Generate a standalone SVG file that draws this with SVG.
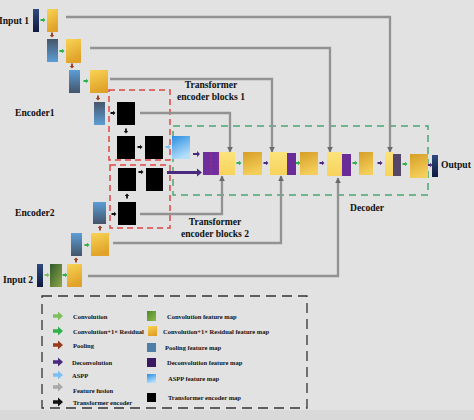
<svg xmlns="http://www.w3.org/2000/svg" width="474" height="420" viewBox="0 0 474 420">
<style>
.lbl{font-family:"Liberation Serif","Times New Roman",serif;font-weight:bold;font-size:9.6px;fill:#111}
.lg{font-family:"Liberation Serif","Times New Roman",serif;font-weight:bold;font-size:6.5px;fill:#111}
.con{fill:none;stroke:#929292;stroke-width:2.3;marker-end:url(#ah)}
.red{fill:none;stroke:#e04545;stroke-width:1.5;stroke-dasharray:6 4}
.grn{fill:none;stroke:#4aa873;stroke-width:1.5;stroke-dasharray:7 5}
.leg{fill:none;stroke:#333;stroke-width:1.3;stroke-dasharray:10 6}
.blk{fill:#000}
.aG{fill:#2fb04a}.aLG{fill:#7fc05c}.aB{fill:#9a3a1c}.aK{fill:#111}.aP{fill:#4a2a7e}.aS{fill:#7cbff0}.aF{fill:#a8a8a8}
</style>
<defs>
<linearGradient id="gNavy" x1="0" y1="0" x2="0" y2="1"><stop offset="0" stop-color="#2e4a80"/><stop offset="1" stop-color="#0e1a40"/></linearGradient>
<linearGradient id="gGold" x1="0" y1="0" x2="0.3" y2="1"><stop offset="0" stop-color="#f8d456"/><stop offset="1" stop-color="#e0a228"/></linearGradient>
<linearGradient id="gGoldD" x1="0" y1="0" x2="0.3" y2="1"><stop offset="0" stop-color="#d69e26"/><stop offset="1" stop-color="#f4ce5a"/></linearGradient>
<linearGradient id="gLight" x1="0" y1="0" x2="0" y2="1"><stop offset="0" stop-color="#fbe37c"/><stop offset="1" stop-color="#f7d35c"/></linearGradient>
<linearGradient id="gPoolA" x1="0" y1="0" x2="0" y2="1"><stop offset="0" stop-color="#46566a"/><stop offset="1" stop-color="#5c9ed6"/></linearGradient>
<linearGradient id="gPoolB" x1="0" y1="0" x2="0" y2="1"><stop offset="0" stop-color="#5c9ed6"/><stop offset="1" stop-color="#44546a"/></linearGradient>
<linearGradient id="gAspp" x1="0" y1="0" x2="0.4" y2="1"><stop offset="0" stop-color="#2a8ee2"/><stop offset="1" stop-color="#b4defa"/></linearGradient>
<linearGradient id="gGreen" x1="0" y1="0" x2="1" y2="1"><stop offset="0" stop-color="#2e5a2a"/><stop offset="1" stop-color="#92a84a"/></linearGradient>
<linearGradient id="gLGreen" x1="0" y1="0" x2="1" y2="1"><stop offset="0" stop-color="#4f8a2c"/><stop offset="1" stop-color="#8cb84e"/></linearGradient>
<marker id="ah" viewBox="0 0 10 10" refX="9" refY="5" markerWidth="6" markerHeight="6" markerUnits="userSpaceOnUse" orient="auto"><path d="M0,0 L10,5 L0,10 z" fill="#6a6a6a"/></marker>
<path id="sa" d="M-2.5,-0.9 H0 V-2.3 L2.5,0 L0,2.3 V0.9 H-2.5 Z"/>
</defs>
<rect width="474" height="420" fill="#e2e2e2"/>
<rect y="410" width="474" height="10" fill="#d9d9d9"/>

<!-- dashed frames -->
<rect class="grn" x="173" y="126" width="255" height="69"/>
<rect class="red" x="109" y="90" width="61" height="70"/>
<rect class="red" x="110" y="165" width="60" height="63"/>

<!-- connectors -->
<g id="connectors">
<path class="con" d="M66,17 H390 V152"/>
<path class="con" d="M90,48 H330 V152"/>
<path class="con" d="M110,79 H272 V152"/>
<path class="con" d="M140,113 H230 V152"/>
<path class="con" d="M140,214 H222 V176"/>
<path class="con" d="M113,243 H281 V176"/>
<path class="con" d="M88,276 H338 V178"/>
<use href="#sa" class="aG" transform="translate(43,20)"/>
<use href="#sa" class="aG" transform="translate(62,51)"/>
<use href="#sa" class="aG" transform="translate(86,81)"/>
<use href="#sa" class="aB" transform="translate(52,35) rotate(90)"/>
<use href="#sa" class="aB" transform="translate(72,66) rotate(90)"/>
<use href="#sa" class="aB" transform="translate(98,98) rotate(90)"/>
<use href="#sa" class="aK" transform="translate(113,113)"/>
<use href="#sa" class="aK" transform="translate(126,131) rotate(90)"/>
<use href="#sa" class="aK" transform="translate(140,147)"/>
<use href="#sa" class="aK" transform="translate(141,172)"/>
<use href="#sa" class="aK" transform="translate(127,196) rotate(-90)"/>
<use href="#sa" class="aK" transform="translate(114,214)"/>
<use href="#sa" class="aB" transform="translate(100,228) rotate(-90)"/>
<use href="#sa" class="aG" transform="translate(87,245)"/>
<use href="#sa" class="aB" transform="translate(76,260) rotate(-90)"/>
<use href="#sa" class="aLG" transform="translate(47,275)"/>
<use href="#sa" class="aG" transform="translate(65,275)"/>
<use href="#sa" class="aS" transform="translate(168,147)"/>
<path class="aP" d="M193,153 H197 V151 L200,154 L197,157 V155 H193 Z"/>
<path class="aP" d="M167,171 H197 V168.5 L202,172.5 L197,176.5 V174 H167 Z"/>
<use href="#sa" class="aG" transform="translate(239,163)"/>
<use href="#sa" class="aP" transform="translate(266,163)"/>
<use href="#sa" class="aG" transform="translate(298,163)"/>
<use href="#sa" class="aP" transform="translate(322,163)"/>
<use href="#sa" class="aG" transform="translate(355,163)"/>
<use href="#sa" class="aP" transform="translate(380,163)"/>
<use href="#sa" class="aG" transform="translate(405,164)"/>
<use href="#sa" class="aP" transform="translate(430,165)"/>
</g>

<!-- encoder 1 -->
<g id="input1"><text class="lbl" x="-1" y="24">Input 1</text><rect x="33" y="9" width="6" height="23" fill="url(#gNavy)"/></g>
<g id="e1c1"><rect x="47" y="9" width="11" height="23" fill="url(#gGold)"/></g>
<g id="e1p1"><rect x="47" y="39" width="11" height="23" fill="url(#gPoolA)"/></g>
<g id="e1c2"><rect x="66" y="39" width="15" height="24" fill="url(#gGold)"/></g>
<g id="e1p2"><rect x="69" y="70" width="11" height="23" fill="url(#gPoolB)"/></g>
<g id="e1c3"><rect x="90" y="70" width="18" height="23" fill="url(#gGold)"/></g>
<g id="encoder1"><text class="lbl" x="15" y="116">Encoder1</text><rect x="94" y="102" width="11" height="23" fill="url(#gPoolA)"/></g>
<g id="t1a"><rect class="blk" x="117" y="102" width="18" height="23"/></g>
<g id="t1b"><rect class="blk" x="117" y="136" width="18" height="23"/></g>
<g id="t1c"><rect class="blk" x="145" y="136" width="18" height="23"/></g>
<g id="tlabel1"><text class="lbl" x="211" y="88" text-anchor="middle">Transformer</text><text class="lbl" x="211" y="100" text-anchor="middle">encoder blocks 1</text></g>

<!-- encoder 2 -->
<g id="t2d"><rect class="blk" x="118" y="168" width="18" height="23"/></g>
<g id="t2e"><rect class="blk" x="146" y="168" width="17" height="23"/></g>
<g id="t2f"><rect class="blk" x="118" y="202" width="18" height="23"/></g>
<g id="encoder2"><text class="lbl" x="15" y="216">Encoder2</text><rect x="93" y="202" width="13" height="22" fill="url(#gPoolB)"/></g>
<g id="e2c3"><rect x="91" y="233" width="18" height="23" fill="url(#gGold)"/></g>
<g id="e2p2"><rect x="71" y="233" width="11" height="23" fill="url(#gPoolB)"/></g>
<g id="input2"><text class="lbl" x="3" y="283">Input 2</text><rect x="37" y="264" width="6" height="23" fill="url(#gNavy)"/></g>
<g id="e2c1"><rect x="50" y="264" width="12" height="23" fill="url(#gGreen)"/></g>
<g id="e2c2"><rect x="67" y="264" width="15" height="23" fill="url(#gGold)"/></g>
<g id="tlabel2"><text class="lbl" x="215" y="225" text-anchor="middle">Transformer</text><text class="lbl" x="215" y="237" text-anchor="middle">encoder blocks 2</text></g>

<!-- decoder -->
<g id="aspp"><rect x="172" y="136" width="18" height="23" fill="url(#gAspp)"/></g>
<g id="d0"><rect x="203" y="152" width="16" height="23" fill="#6e2e9e"/><path d="M211,152 V175 M218,152 V175" stroke="#c03060" stroke-width="0.8" stroke-dasharray="2 1.5" fill="none"/></g>
<g id="d1"><rect x="219" y="152" width="16" height="23" fill="url(#gLight)"/></g>
<g id="d2"><rect x="243" y="152" width="19" height="23" fill="url(#gGoldD)"/></g>
<g id="d3"><rect x="270" y="152" width="17" height="23" fill="url(#gLight)"/><rect x="287" y="153" width="9" height="22" fill="#6a2c96"/></g>
<g id="d4"><rect x="300" y="152" width="18" height="23" fill="url(#gGoldD)"/></g>
<g id="d5"><rect x="327" y="152" width="15" height="24" fill="url(#gLight)"/><rect x="342" y="154" width="9" height="22" fill="#6a2c96"/></g>
<g id="d6"><rect x="359" y="152" width="14" height="23" fill="url(#gGoldD)"/></g>
<g id="d7"><rect x="385" y="152" width="8" height="24" fill="url(#gLight)"/><rect x="393" y="154" width="8" height="22" fill="#564668"/></g>
<g id="d8"><rect x="410" y="154" width="18" height="24" fill="url(#gGoldD)"/></g>
<g id="output"><rect x="432" y="155" width="6" height="22" fill="url(#gNavy)"/><text class="lbl" x="441" y="168">Output</text></g>
<g id="decoder-label"><text class="lbl" x="350" y="211">Decoder</text></g>

<!-- legend -->
<g id="legend">
<rect class="leg" x="42" y="296" width="265" height="112"/>
<use href="#sa" class="aLG" transform="translate(58,316) scale(2)"/>
<text class="lg" x="73" y="318.5">Convolution</text>
<use href="#sa" class="aG" transform="translate(58,331) scale(2)"/>
<text class="lg" x="73" y="333.5">Convolution+1× Residual</text>
<use href="#sa" class="aB" transform="translate(58,345) scale(2)"/>
<text class="lg" x="73" y="347.5">Pooling</text>
<use href="#sa" class="aP" transform="translate(58,362) scale(2)"/>
<text class="lg" x="72" y="364.5">Deconvolution</text>
<use href="#sa" class="aS" transform="translate(58,375) scale(2)"/>
<text class="lg" x="72" y="377.5">ASPP</text>
<use href="#sa" class="aF" transform="translate(58,387) scale(2)"/>
<text class="lg" x="73" y="392.5">Feature fusion</text>
<use href="#sa" class="aK" transform="translate(58,402) scale(2)"/>
<text class="lg" x="73" y="404.5">Transformer encoder</text>
<rect x="147" y="311" width="9" height="10" fill="url(#gLGreen)"/>
<text class="lg" x="167" y="318.5">Convolution feature map</text>
<rect x="148" y="326" width="9" height="10" fill="url(#gGold)"/>
<text class="lg" x="163" y="333.5">Convolution+1× Residual feature map</text>
<rect x="147" y="343" width="9" height="9" fill="#4f7ea6"/>
<text class="lg" x="165" y="350">Pooling feature map</text>
<rect x="147" y="358" width="9" height="9" fill="#3a1862"/>
<text class="lg" x="167" y="365">Deconvolution feature map</text>
<rect x="147" y="374" width="9" height="9" fill="url(#gAspp)"/>
<text class="lg" x="168" y="381">ASPP feature map</text>
<rect class="blk" x="147" y="393" width="9" height="9"/>
<text class="lg" x="168" y="400">Transformer encoder map</text>
</g>
</svg>
